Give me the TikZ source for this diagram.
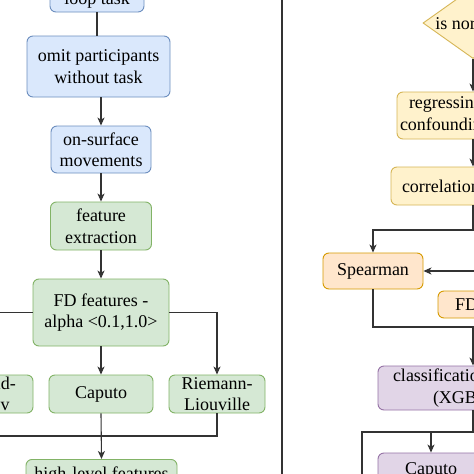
\documentclass[tikz,border=0pt]{standalone}
\usepackage{fontspec}
\setmainfont{Liberation Serif}
\usetikzlibrary{arrows.meta,shapes.geometric}
\definecolor{bluef}{HTML}{DAE8FC}\definecolor{blued}{HTML}{6C8EBF}
\definecolor{greenf}{HTML}{D5E8D4}\definecolor{greend}{HTML}{82B366}
\definecolor{yellowf}{HTML}{FFF2CC}\definecolor{yellowd}{HTML}{D6B656}
\definecolor{orangef}{HTML}{FFE6CC}\definecolor{oranged}{HTML}{D79B00}
\definecolor{purplef}{HTML}{E1D5E7}\definecolor{purpled}{HTML}{9673A6}
\definecolor{linec}{HTML}{333333}
\tikzset{
  box/.style={draw, rounded corners=6pt, line width=0.9pt, align=center,
    inner xsep=2pt, inner ysep=2pt, font=\fontsize{18}{21.5}\selectfont},
  bluebox/.style={box, fill=bluef, draw=blued},
  greenbox/.style={box, fill=greenf, draw=greend},
  yellowbox/.style={box, fill=yellowf, draw=yellowd},
  orangebox/.style={box, fill=orangef, draw=oranged},
  purplebox/.style={box, fill=purplef, draw=purpled},
  conn/.style={draw=linec, line width=1.1pt},
  arr/.style={conn, -{Stealth[length=8pt,width=7pt,inset=2.2pt]}}
}
\begin{document}
\begin{tikzpicture}[x=1pt,y=-1pt]
\useasboundingbox (0,0) rectangle (474,474);
\clip (0,0) rectangle (474,474);
\fill[white] (0,0) rectangle (474,474);
% ---------------- left column ----------------
\node[bluebox, minimum width=94pt, minimum height=40pt, text height=28pt, text depth=4pt] (loop) at (97,-8) {loop task};
\node[bluebox, minimum width=143pt, minimum height=61pt] (omit) at (98.5,66.5) {omit participants\\without task};
\node[bluebox, minimum width=100pt, minimum height=47pt] (surf) at (101,149.5) {on-surface\\movements};
\node[greenbox, minimum width=101pt, minimum height=48pt] (fext) at (101,226) {feature\\extraction};
\node[greenbox, minimum width=136pt, minimum height=67pt] (fdf) at (101,312.5) {FD features -\\alpha <0.1,1.0>};
\node[greenbox, minimum width=112pt, minimum height=38pt, inner ysep=0pt] (gl) at (-23,394) {Grünwald-\\Letnikov};
\node[greenbox, minimum width=104pt, minimum height=38pt] (capL) at (101,394) {Caputo};
\node[greenbox, minimum width=96pt, minimum height=38pt, inner ysep=0pt] (rl) at (217,394) {Riemann-\\Liouville};
\node[greenbox, minimum width=151pt, minimum height=32pt, anchor=north] (hlf) at (101.5,459) {high-level features};
\coordinate (merge) at (101,436);

\draw[conn] (loop.south) -- (loop.south |- omit.north);
\draw[arr] (surf.north |- omit.south) -- (surf.north);
\draw[arr] (surf.south) -- (fext.north);
\draw[arr] (fext.south) -- (fdf.north);
\draw[arr] (fdf.south) -- (capL.north);
\draw[arr] (fdf.west) -| (gl.north);
\draw[arr] (fdf.east) -| (rl.north);
\draw[conn] (rl.south) |- (merge);
\draw[conn] (gl.south) |- (merge);
\draw[arr] (capL.south) -- (hlf.north);

% separator
\coordinate (sepT) at (282,-5);
\coordinate (sepB) at (282,480);
\draw[conn] (sepT) -- (sepB);

% ---------------- right column ----------------
\node[yellowbox, diamond, sharp corners, aspect=1.4, minimum width=100pt, minimum height=71pt, inner sep=0pt] (norm) at (473,23) {is normal?};
\node[yellowbox, minimum width=152pt, minimum height=47pt] (regr) at (473,115.5) {\makebox[128pt][l]{regressing}\\\makebox[146pt][l]{confounding}};
\node[yellowbox, minimum width=164pt, minimum height=38pt] (corr) at (473,186) {\makebox[142pt][l]{correlation}};
\node[orangebox, minimum width=100pt, minimum height=36pt] (spear) at (373,271) {Spearman};
\node[orangebox, minimum width=118pt, minimum height=27pt, inner ysep=1pt] (fdr) at (497,304.5) {\makebox[84pt][l]{FD}};
\node[purplebox, minimum width=190pt, minimum height=44pt] (cls) at (473,388) {\makebox[160pt][l]{classification}\\(XGBoost)};
\node[purplebox, minimum width=106pt, minimum height=34pt] (capR) at (431,470) {Caputo};

\coordinate (split) at (473,230);
\coordinate (splitR) at (520,230);
\coordinate (inS) at (520,271);
\coordinate (merge2) at (473,327);
\coordinate (merge2R) at (520,327);
\coordinate (split2) at (473,432);
\coordinate (split2R) at (520,432);
\coordinate (leftC) at (362,432);
\coordinate (leftCB) at (362,480);

\draw[arr] (norm.south) -- (regr.north);
\draw[arr] (regr.south) -- (corr.north);
\draw[conn] (corr.south) -- (split) -- (splitR);
\draw[arr] (split) -| (spear.north);
\draw[arr] (inS) -- (spear.east);
\draw[conn] (merge2R) -- (merge2);
\draw[arr] (spear.south) |- (merge2) -- (cls.north);
\draw[conn] (cls.south) -- (split2);
\draw[conn, line width=2pt] (split2R) -- (capR.north |- split2);
\draw[conn] (split2) -- (leftC) -- (leftCB);
\draw[arr] (split2) -| (capR.north);
\end{tikzpicture}
\end{document}
